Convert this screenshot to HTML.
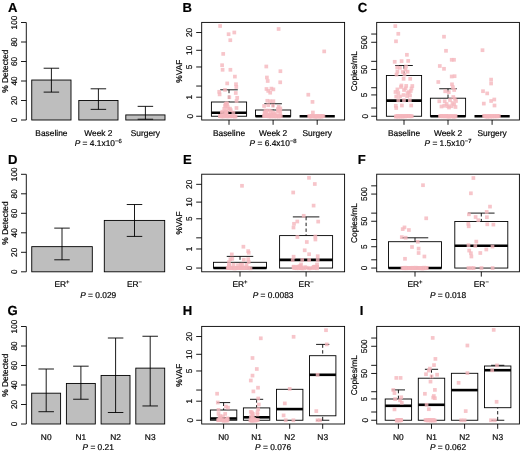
<!DOCTYPE html>
<html><head><meta charset="utf-8"><style>
html,body{margin:0;padding:0;background:#fff;}
svg{display:block;font-family:"Liberation Sans", sans-serif;will-change:transform;}
text{fill:#000;stroke:#000;stroke-width:0.18px;text-rendering:geometricPrecision;}
</style></head><body>
<svg width="520" height="453" viewBox="0 0 520 453">
<rect x="0" y="0" width="520" height="453" fill="#fff"/>
<text x="7.90" y="11.75" font-size="13.1" text-anchor="start" font-weight="bold" font-style="normal">A</text>
<text x="182.60" y="11.75" font-size="13.1" text-anchor="start" font-weight="bold" font-style="normal">B</text>
<text x="357.70" y="11.75" font-size="13.1" text-anchor="start" font-weight="bold" font-style="normal">C</text>
<text x="7.90" y="163.55" font-size="13.1" text-anchor="start" font-weight="bold" font-style="normal">D</text>
<text x="183.00" y="163.55" font-size="13.1" text-anchor="start" font-weight="bold" font-style="normal">E</text>
<text x="357.70" y="163.55" font-size="13.1" text-anchor="start" font-weight="bold" font-style="normal">F</text>
<text x="7.40" y="315.25" font-size="13.1" text-anchor="start" font-weight="bold" font-style="normal">G</text>
<text x="182.70" y="315.25" font-size="13.1" text-anchor="start" font-weight="bold" font-style="normal">H</text>
<text x="359.70" y="315.25" font-size="13.1" text-anchor="start" font-weight="bold" font-style="normal">I</text>
<line x1="26.30" y1="120.00" x2="26.30" y2="22.50" stroke="#000" stroke-width="0.9" stroke-linecap="butt"/>
<line x1="21.00" y1="120.00" x2="26.30" y2="120.00" stroke="#000" stroke-width="0.9" stroke-linecap="butt"/>
<text x="17.00" y="120.00" font-size="8.25" text-anchor="middle" font-weight="normal" font-style="normal" transform="rotate(-90 17.00 120.00)">0</text>
<line x1="21.00" y1="100.50" x2="26.30" y2="100.50" stroke="#000" stroke-width="0.9" stroke-linecap="butt"/>
<text x="17.00" y="100.50" font-size="8.25" text-anchor="middle" font-weight="normal" font-style="normal" transform="rotate(-90 17.00 100.50)">20</text>
<line x1="21.00" y1="81.00" x2="26.30" y2="81.00" stroke="#000" stroke-width="0.9" stroke-linecap="butt"/>
<text x="17.00" y="81.00" font-size="8.25" text-anchor="middle" font-weight="normal" font-style="normal" transform="rotate(-90 17.00 81.00)">40</text>
<line x1="21.00" y1="61.50" x2="26.30" y2="61.50" stroke="#000" stroke-width="0.9" stroke-linecap="butt"/>
<text x="17.00" y="61.50" font-size="8.25" text-anchor="middle" font-weight="normal" font-style="normal" transform="rotate(-90 17.00 61.50)">60</text>
<line x1="21.00" y1="42.00" x2="26.30" y2="42.00" stroke="#000" stroke-width="0.9" stroke-linecap="butt"/>
<text x="17.00" y="42.00" font-size="8.25" text-anchor="middle" font-weight="normal" font-style="normal" transform="rotate(-90 17.00 42.00)">80</text>
<line x1="21.00" y1="22.50" x2="26.30" y2="22.50" stroke="#000" stroke-width="0.9" stroke-linecap="butt"/>
<text x="17.00" y="22.50" font-size="8.25" text-anchor="middle" font-weight="normal" font-style="normal" transform="rotate(-90 17.00 22.50)">100</text>
<text x="7.90" y="71.20" font-size="8.4" text-anchor="middle" font-weight="normal" font-style="normal" transform="rotate(-90 7.90 71.20)">% Detected</text>
<rect x="31.75" y="80.03" width="39.25" height="39.97" fill="#bebebe" stroke="#000" stroke-width="0.9"/>
<rect x="78.80" y="100.50" width="39.20" height="19.50" fill="#bebebe" stroke="#000" stroke-width="0.9"/>
<rect x="125.80" y="114.93" width="39.20" height="5.07" fill="#bebebe" stroke="#000" stroke-width="0.9"/>
<line x1="51.40" y1="92.11" x2="51.40" y2="68.23" stroke="#000" stroke-width="0.9" stroke-linecap="butt"/>
<line x1="43.65" y1="92.11" x2="59.15" y2="92.11" stroke="#000" stroke-width="0.9" stroke-linecap="butt"/>
<line x1="43.65" y1="68.23" x2="59.15" y2="68.23" stroke="#000" stroke-width="0.9" stroke-linecap="butt"/>
<line x1="98.40" y1="109.37" x2="98.40" y2="88.80" stroke="#000" stroke-width="0.9" stroke-linecap="butt"/>
<line x1="90.65" y1="109.37" x2="106.15" y2="109.37" stroke="#000" stroke-width="0.9" stroke-linecap="butt"/>
<line x1="90.65" y1="88.80" x2="106.15" y2="88.80" stroke="#000" stroke-width="0.9" stroke-linecap="butt"/>
<line x1="145.40" y1="119.22" x2="145.40" y2="106.35" stroke="#000" stroke-width="0.9" stroke-linecap="butt"/>
<line x1="137.65" y1="119.22" x2="153.15" y2="119.22" stroke="#000" stroke-width="0.9" stroke-linecap="butt"/>
<line x1="137.65" y1="106.35" x2="153.15" y2="106.35" stroke="#000" stroke-width="0.9" stroke-linecap="butt"/>
<text x="51.40" y="135.60" font-size="8.4" text-anchor="middle" font-weight="normal" font-style="normal">Baseline</text>
<text x="98.40" y="135.60" font-size="8.4" text-anchor="middle" font-weight="normal" font-style="normal">Week 2</text>
<text x="145.40" y="135.60" font-size="8.4" text-anchor="middle" font-weight="normal" font-style="normal">Surgery</text>
<text x="98.20" y="146.30" font-size="8.4" text-anchor="middle" font-weight="normal" font-style="normal"><tspan font-style="italic">P</tspan> = 4.1x10<tspan dy="-3.5" font-size="5.9">−6</tspan></text>
<line x1="26.30" y1="271.80" x2="26.30" y2="174.30" stroke="#000" stroke-width="0.9" stroke-linecap="butt"/>
<line x1="21.00" y1="271.80" x2="26.30" y2="271.80" stroke="#000" stroke-width="0.9" stroke-linecap="butt"/>
<text x="17.00" y="271.80" font-size="8.25" text-anchor="middle" font-weight="normal" font-style="normal" transform="rotate(-90 17.00 271.80)">0</text>
<line x1="21.00" y1="252.30" x2="26.30" y2="252.30" stroke="#000" stroke-width="0.9" stroke-linecap="butt"/>
<text x="17.00" y="252.30" font-size="8.25" text-anchor="middle" font-weight="normal" font-style="normal" transform="rotate(-90 17.00 252.30)">20</text>
<line x1="21.00" y1="232.80" x2="26.30" y2="232.80" stroke="#000" stroke-width="0.9" stroke-linecap="butt"/>
<text x="17.00" y="232.80" font-size="8.25" text-anchor="middle" font-weight="normal" font-style="normal" transform="rotate(-90 17.00 232.80)">40</text>
<line x1="21.00" y1="213.30" x2="26.30" y2="213.30" stroke="#000" stroke-width="0.9" stroke-linecap="butt"/>
<text x="17.00" y="213.30" font-size="8.25" text-anchor="middle" font-weight="normal" font-style="normal" transform="rotate(-90 17.00 213.30)">60</text>
<line x1="21.00" y1="193.80" x2="26.30" y2="193.80" stroke="#000" stroke-width="0.9" stroke-linecap="butt"/>
<text x="17.00" y="193.80" font-size="8.25" text-anchor="middle" font-weight="normal" font-style="normal" transform="rotate(-90 17.00 193.80)">80</text>
<line x1="21.00" y1="174.30" x2="26.30" y2="174.30" stroke="#000" stroke-width="0.9" stroke-linecap="butt"/>
<text x="17.00" y="174.30" font-size="8.25" text-anchor="middle" font-weight="normal" font-style="normal" transform="rotate(-90 17.00 174.30)">100</text>
<text x="7.90" y="223.00" font-size="8.4" text-anchor="middle" font-weight="normal" font-style="normal" transform="rotate(-90 7.90 223.00)">% Detected</text>
<rect x="31.75" y="246.65" width="60.55" height="25.16" fill="#bebebe" stroke="#000" stroke-width="0.9"/>
<rect x="104.30" y="220.42" width="60.40" height="51.38" fill="#bebebe" stroke="#000" stroke-width="0.9"/>
<line x1="62.00" y1="259.81" x2="62.00" y2="228.12" stroke="#000" stroke-width="0.9" stroke-linecap="butt"/>
<line x1="54.25" y1="259.81" x2="69.75" y2="259.81" stroke="#000" stroke-width="0.9" stroke-linecap="butt"/>
<line x1="54.25" y1="228.12" x2="69.75" y2="228.12" stroke="#000" stroke-width="0.9" stroke-linecap="butt"/>
<line x1="134.50" y1="236.41" x2="134.50" y2="204.53" stroke="#000" stroke-width="0.9" stroke-linecap="butt"/>
<line x1="126.75" y1="236.41" x2="142.25" y2="236.41" stroke="#000" stroke-width="0.9" stroke-linecap="butt"/>
<line x1="126.75" y1="204.53" x2="142.25" y2="204.53" stroke="#000" stroke-width="0.9" stroke-linecap="butt"/>
<text x="62.00" y="287.40" font-size="8.4" text-anchor="middle" font-weight="normal" font-style="normal">ER<tspan dy="-3.5" font-size="5.9">+</tspan></text>
<text x="134.50" y="287.40" font-size="8.4" text-anchor="middle" font-weight="normal" font-style="normal">ER<tspan dy="-3.5" font-size="5.9">−</tspan></text>
<text x="98.20" y="298.10" font-size="8.4" text-anchor="middle" font-weight="normal" font-style="normal"><tspan font-style="italic">P</tspan> = 0.029</text>
<line x1="26.30" y1="424.00" x2="26.30" y2="326.50" stroke="#000" stroke-width="0.9" stroke-linecap="butt"/>
<line x1="21.00" y1="424.00" x2="26.30" y2="424.00" stroke="#000" stroke-width="0.9" stroke-linecap="butt"/>
<text x="17.00" y="424.00" font-size="8.25" text-anchor="middle" font-weight="normal" font-style="normal" transform="rotate(-90 17.00 424.00)">0</text>
<line x1="21.00" y1="404.50" x2="26.30" y2="404.50" stroke="#000" stroke-width="0.9" stroke-linecap="butt"/>
<text x="17.00" y="404.50" font-size="8.25" text-anchor="middle" font-weight="normal" font-style="normal" transform="rotate(-90 17.00 404.50)">20</text>
<line x1="21.00" y1="385.00" x2="26.30" y2="385.00" stroke="#000" stroke-width="0.9" stroke-linecap="butt"/>
<text x="17.00" y="385.00" font-size="8.25" text-anchor="middle" font-weight="normal" font-style="normal" transform="rotate(-90 17.00 385.00)">40</text>
<line x1="21.00" y1="365.50" x2="26.30" y2="365.50" stroke="#000" stroke-width="0.9" stroke-linecap="butt"/>
<text x="17.00" y="365.50" font-size="8.25" text-anchor="middle" font-weight="normal" font-style="normal" transform="rotate(-90 17.00 365.50)">60</text>
<line x1="21.00" y1="346.00" x2="26.30" y2="346.00" stroke="#000" stroke-width="0.9" stroke-linecap="butt"/>
<text x="17.00" y="346.00" font-size="8.25" text-anchor="middle" font-weight="normal" font-style="normal" transform="rotate(-90 17.00 346.00)">80</text>
<line x1="21.00" y1="326.50" x2="26.30" y2="326.50" stroke="#000" stroke-width="0.9" stroke-linecap="butt"/>
<text x="17.00" y="326.50" font-size="8.25" text-anchor="middle" font-weight="normal" font-style="normal" transform="rotate(-90 17.00 326.50)">100</text>
<text x="7.90" y="375.20" font-size="8.4" text-anchor="middle" font-weight="normal" font-style="normal" transform="rotate(-90 7.90 375.20)">% Detected</text>
<rect x="31.70" y="393.19" width="28.90" height="30.81" fill="#bebebe" stroke="#000" stroke-width="0.9"/>
<rect x="66.40" y="383.44" width="28.90" height="40.56" fill="#bebebe" stroke="#000" stroke-width="0.9"/>
<rect x="101.10" y="375.44" width="28.90" height="48.56" fill="#bebebe" stroke="#000" stroke-width="0.9"/>
<rect x="135.80" y="368.13" width="28.90" height="55.87" fill="#bebebe" stroke="#000" stroke-width="0.9"/>
<line x1="46.20" y1="411.71" x2="46.20" y2="369.01" stroke="#000" stroke-width="0.9" stroke-linecap="butt"/>
<line x1="38.45" y1="411.71" x2="53.95" y2="411.71" stroke="#000" stroke-width="0.9" stroke-linecap="butt"/>
<line x1="38.45" y1="369.01" x2="53.95" y2="369.01" stroke="#000" stroke-width="0.9" stroke-linecap="butt"/>
<line x1="80.90" y1="399.24" x2="80.90" y2="366.18" stroke="#000" stroke-width="0.9" stroke-linecap="butt"/>
<line x1="73.15" y1="399.24" x2="88.65" y2="399.24" stroke="#000" stroke-width="0.9" stroke-linecap="butt"/>
<line x1="73.15" y1="366.18" x2="88.65" y2="366.18" stroke="#000" stroke-width="0.9" stroke-linecap="butt"/>
<line x1="115.60" y1="412.50" x2="115.60" y2="338.00" stroke="#000" stroke-width="0.9" stroke-linecap="butt"/>
<line x1="107.85" y1="412.50" x2="123.35" y2="412.50" stroke="#000" stroke-width="0.9" stroke-linecap="butt"/>
<line x1="107.85" y1="338.00" x2="123.35" y2="338.00" stroke="#000" stroke-width="0.9" stroke-linecap="butt"/>
<line x1="150.20" y1="405.96" x2="150.20" y2="336.25" stroke="#000" stroke-width="0.9" stroke-linecap="butt"/>
<line x1="142.45" y1="405.96" x2="157.95" y2="405.96" stroke="#000" stroke-width="0.9" stroke-linecap="butt"/>
<line x1="142.45" y1="336.25" x2="157.95" y2="336.25" stroke="#000" stroke-width="0.9" stroke-linecap="butt"/>
<text x="46.20" y="439.60" font-size="8.4" text-anchor="middle" font-weight="normal" font-style="normal">N0</text>
<text x="80.90" y="439.60" font-size="8.4" text-anchor="middle" font-weight="normal" font-style="normal">N1</text>
<text x="115.60" y="439.60" font-size="8.4" text-anchor="middle" font-weight="normal" font-style="normal">N2</text>
<text x="150.20" y="439.60" font-size="8.4" text-anchor="middle" font-weight="normal" font-style="normal">N3</text>
<text x="98.20" y="450.30" font-size="8.4" text-anchor="middle" font-weight="normal" font-style="normal"><tspan font-style="italic">P</tspan> = 0.21</text>
<rect x="201.70" y="22.40" width="142.90" height="97.60" fill="none" stroke="#000" stroke-width="0.9"/>
<line x1="196.20" y1="116.25" x2="201.70" y2="116.25" stroke="#000" stroke-width="0.9" stroke-linecap="butt"/>
<text x="192.50" y="116.25" font-size="8.25" text-anchor="middle" font-weight="normal" font-style="normal" transform="rotate(-90 192.50 116.25)">0</text>
<line x1="196.20" y1="97.19" x2="201.70" y2="97.19" stroke="#000" stroke-width="0.9" stroke-linecap="butt"/>
<text x="192.50" y="97.19" font-size="8.25" text-anchor="middle" font-weight="normal" font-style="normal" transform="rotate(-90 192.50 97.19)">1</text>
<line x1="196.20" y1="86.04" x2="201.70" y2="86.04" stroke="#000" stroke-width="0.9" stroke-linecap="butt"/>
<line x1="196.20" y1="66.98" x2="201.70" y2="66.98" stroke="#000" stroke-width="0.9" stroke-linecap="butt"/>
<text x="192.50" y="66.98" font-size="8.25" text-anchor="middle" font-weight="normal" font-style="normal" transform="rotate(-90 192.50 66.98)">5</text>
<line x1="196.20" y1="50.31" x2="201.70" y2="50.31" stroke="#000" stroke-width="0.9" stroke-linecap="butt"/>
<text x="192.50" y="50.31" font-size="8.25" text-anchor="middle" font-weight="normal" font-style="normal" transform="rotate(-90 192.50 50.31)">10</text>
<line x1="196.20" y1="32.53" x2="201.70" y2="32.53" stroke="#000" stroke-width="0.9" stroke-linecap="butt"/>
<text x="192.50" y="32.53" font-size="8.25" text-anchor="middle" font-weight="normal" font-style="normal" transform="rotate(-90 192.50 32.53)">20</text>
<text x="182.40" y="71.20" font-size="8.4" text-anchor="middle" font-weight="normal" font-style="normal" transform="rotate(-90 182.40 71.20)">%VAF</text>
<rect x="211.40" y="102.00" width="35.20" height="14.25" fill="#fff" stroke="#000" stroke-width="0.9"/>
<line x1="229.00" y1="89.80" x2="229.00" y2="102.00" stroke="#000" stroke-width="0.9" stroke-dasharray="3.4,2.4" stroke-linecap="butt"/>
<line x1="220.20" y1="89.80" x2="237.80" y2="89.80" stroke="#000" stroke-width="0.9" stroke-linecap="butt"/>
<line x1="211.40" y1="112.70" x2="246.60" y2="112.70" stroke="#000" stroke-width="2.6" stroke-linecap="butt"/>
<rect x="255.50" y="110.00" width="35.20" height="6.25" fill="#fff" stroke="#000" stroke-width="0.9"/>
<line x1="273.10" y1="103.75" x2="273.10" y2="110.00" stroke="#000" stroke-width="0.9" stroke-dasharray="3.4,2.4" stroke-linecap="butt"/>
<line x1="264.30" y1="103.75" x2="281.90" y2="103.75" stroke="#000" stroke-width="0.9" stroke-linecap="butt"/>
<line x1="255.50" y1="116.25" x2="290.70" y2="116.25" stroke="#000" stroke-width="2.6" stroke-linecap="butt"/>
<rect x="299.60" y="116.25" width="35.20" height="0.00" fill="#fff" stroke="#000" stroke-width="0.9"/>
<line x1="299.60" y1="116.25" x2="334.80" y2="116.25" stroke="#000" stroke-width="2.6" stroke-linecap="butt"/>
<line x1="229.00" y1="120.00" x2="229.00" y2="124.80" stroke="#000" stroke-width="0.9" stroke-linecap="butt"/>
<text x="229.00" y="135.60" font-size="8.4" text-anchor="middle" font-weight="normal" font-style="normal">Baseline</text>
<line x1="273.10" y1="120.00" x2="273.10" y2="124.80" stroke="#000" stroke-width="0.9" stroke-linecap="butt"/>
<text x="273.10" y="135.60" font-size="8.4" text-anchor="middle" font-weight="normal" font-style="normal">Week 2</text>
<line x1="317.20" y1="120.00" x2="317.20" y2="124.80" stroke="#000" stroke-width="0.9" stroke-linecap="butt"/>
<text x="317.20" y="135.60" font-size="8.4" text-anchor="middle" font-weight="normal" font-style="normal">Surgery</text>
<text x="273.10" y="146.30" font-size="8.4" text-anchor="middle" font-weight="normal" font-style="normal"><tspan font-style="italic">P</tspan> = 6.4x10<tspan dy="-3.5" font-size="5.9">−8</tspan></text>
<rect x="376.70" y="22.40" width="142.70" height="97.60" fill="none" stroke="#000" stroke-width="0.9"/>
<line x1="371.20" y1="116.25" x2="376.70" y2="116.25" stroke="#000" stroke-width="0.9" stroke-linecap="butt"/>
<text x="367.50" y="116.25" font-size="8.25" text-anchor="middle" font-weight="normal" font-style="normal" transform="rotate(-90 367.50 116.25)">0</text>
<line x1="371.20" y1="108.00" x2="376.70" y2="108.00" stroke="#000" stroke-width="0.9" stroke-linecap="butt"/>
<line x1="371.20" y1="94.93" x2="376.70" y2="94.93" stroke="#000" stroke-width="0.9" stroke-linecap="butt"/>
<text x="367.50" y="94.93" font-size="8.25" text-anchor="middle" font-weight="normal" font-style="normal" transform="rotate(-90 367.50 94.93)">5</text>
<line x1="371.20" y1="87.72" x2="376.70" y2="87.72" stroke="#000" stroke-width="0.9" stroke-linecap="butt"/>
<line x1="371.20" y1="69.46" x2="376.70" y2="69.46" stroke="#000" stroke-width="0.9" stroke-linecap="butt"/>
<text x="367.50" y="69.46" font-size="8.25" text-anchor="middle" font-weight="normal" font-style="normal" transform="rotate(-90 367.50 69.46)">50</text>
<line x1="371.20" y1="61.33" x2="376.70" y2="61.33" stroke="#000" stroke-width="0.9" stroke-linecap="butt"/>
<line x1="371.20" y1="42.27" x2="376.70" y2="42.27" stroke="#000" stroke-width="0.9" stroke-linecap="butt"/>
<text x="367.50" y="42.27" font-size="8.25" text-anchor="middle" font-weight="normal" font-style="normal" transform="rotate(-90 367.50 42.27)">500</text>
<line x1="371.20" y1="34.04" x2="376.70" y2="34.04" stroke="#000" stroke-width="0.9" stroke-linecap="butt"/>
<text x="357.40" y="71.20" font-size="8.4" text-anchor="middle" font-weight="normal" font-style="normal" transform="rotate(-90 357.40 71.20)">Copies/mL</text>
<rect x="386.40" y="75.50" width="35.20" height="40.75" fill="#fff" stroke="#000" stroke-width="0.9"/>
<line x1="404.00" y1="65.50" x2="404.00" y2="75.50" stroke="#000" stroke-width="0.9" stroke-dasharray="3.4,2.4" stroke-linecap="butt"/>
<line x1="395.20" y1="65.50" x2="412.80" y2="65.50" stroke="#000" stroke-width="0.9" stroke-linecap="butt"/>
<line x1="386.40" y1="100.60" x2="421.60" y2="100.60" stroke="#000" stroke-width="2.6" stroke-linecap="butt"/>
<rect x="430.40" y="98.20" width="35.20" height="18.05" fill="#fff" stroke="#000" stroke-width="0.9"/>
<line x1="448.00" y1="88.75" x2="448.00" y2="98.20" stroke="#000" stroke-width="0.9" stroke-dasharray="3.4,2.4" stroke-linecap="butt"/>
<line x1="439.20" y1="88.75" x2="456.80" y2="88.75" stroke="#000" stroke-width="0.9" stroke-linecap="butt"/>
<line x1="430.40" y1="116.25" x2="465.60" y2="116.25" stroke="#000" stroke-width="2.6" stroke-linecap="butt"/>
<rect x="474.50" y="116.25" width="35.20" height="0.00" fill="#fff" stroke="#000" stroke-width="0.9"/>
<line x1="474.50" y1="116.25" x2="509.70" y2="116.25" stroke="#000" stroke-width="2.6" stroke-linecap="butt"/>
<line x1="404.00" y1="120.00" x2="404.00" y2="124.80" stroke="#000" stroke-width="0.9" stroke-linecap="butt"/>
<text x="404.00" y="135.60" font-size="8.4" text-anchor="middle" font-weight="normal" font-style="normal">Baseline</text>
<line x1="448.00" y1="120.00" x2="448.00" y2="124.80" stroke="#000" stroke-width="0.9" stroke-linecap="butt"/>
<text x="448.00" y="135.60" font-size="8.4" text-anchor="middle" font-weight="normal" font-style="normal">Week 2</text>
<line x1="492.10" y1="120.00" x2="492.10" y2="124.80" stroke="#000" stroke-width="0.9" stroke-linecap="butt"/>
<text x="492.10" y="135.60" font-size="8.4" text-anchor="middle" font-weight="normal" font-style="normal">Surgery</text>
<text x="448.00" y="146.30" font-size="8.4" text-anchor="middle" font-weight="normal" font-style="normal"><tspan font-style="italic">P</tspan> = 1.5x10<tspan dy="-3.5" font-size="5.9">−7</tspan></text>
<rect x="201.70" y="174.20" width="142.90" height="97.60" fill="none" stroke="#000" stroke-width="0.9"/>
<line x1="196.20" y1="268.05" x2="201.70" y2="268.05" stroke="#000" stroke-width="0.9" stroke-linecap="butt"/>
<text x="192.50" y="268.05" font-size="8.25" text-anchor="middle" font-weight="normal" font-style="normal" transform="rotate(-90 192.50 268.05)">0</text>
<line x1="196.20" y1="248.99" x2="201.70" y2="248.99" stroke="#000" stroke-width="0.9" stroke-linecap="butt"/>
<text x="192.50" y="248.99" font-size="8.25" text-anchor="middle" font-weight="normal" font-style="normal" transform="rotate(-90 192.50 248.99)">1</text>
<line x1="196.20" y1="237.84" x2="201.70" y2="237.84" stroke="#000" stroke-width="0.9" stroke-linecap="butt"/>
<line x1="196.20" y1="218.78" x2="201.70" y2="218.78" stroke="#000" stroke-width="0.9" stroke-linecap="butt"/>
<text x="192.50" y="218.78" font-size="8.25" text-anchor="middle" font-weight="normal" font-style="normal" transform="rotate(-90 192.50 218.78)">5</text>
<line x1="196.20" y1="202.11" x2="201.70" y2="202.11" stroke="#000" stroke-width="0.9" stroke-linecap="butt"/>
<text x="192.50" y="202.11" font-size="8.25" text-anchor="middle" font-weight="normal" font-style="normal" transform="rotate(-90 192.50 202.11)">10</text>
<line x1="196.20" y1="184.33" x2="201.70" y2="184.33" stroke="#000" stroke-width="0.9" stroke-linecap="butt"/>
<text x="192.50" y="184.33" font-size="8.25" text-anchor="middle" font-weight="normal" font-style="normal" transform="rotate(-90 192.50 184.33)">20</text>
<text x="182.40" y="223.00" font-size="8.4" text-anchor="middle" font-weight="normal" font-style="normal" transform="rotate(-90 182.40 223.00)">%VAF</text>
<rect x="213.50" y="262.30" width="53.00" height="5.75" fill="#fff" stroke="#000" stroke-width="0.9"/>
<line x1="240.00" y1="256.40" x2="240.00" y2="262.30" stroke="#000" stroke-width="0.9" stroke-dasharray="3.4,2.4" stroke-linecap="butt"/>
<line x1="226.75" y1="256.40" x2="253.25" y2="256.40" stroke="#000" stroke-width="0.9" stroke-linecap="butt"/>
<line x1="213.50" y1="268.05" x2="266.50" y2="268.05" stroke="#000" stroke-width="2.6" stroke-linecap="butt"/>
<rect x="279.60" y="235.60" width="53.00" height="32.45" fill="#fff" stroke="#000" stroke-width="0.9"/>
<line x1="306.10" y1="216.90" x2="306.10" y2="235.60" stroke="#000" stroke-width="0.9" stroke-dasharray="3.4,2.4" stroke-linecap="butt"/>
<line x1="292.85" y1="216.90" x2="319.35" y2="216.90" stroke="#000" stroke-width="0.9" stroke-linecap="butt"/>
<line x1="279.60" y1="259.90" x2="332.60" y2="259.90" stroke="#000" stroke-width="2.6" stroke-linecap="butt"/>
<line x1="240.00" y1="271.80" x2="240.00" y2="276.60" stroke="#000" stroke-width="0.9" stroke-linecap="butt"/>
<text x="240.00" y="287.40" font-size="8.4" text-anchor="middle" font-weight="normal" font-style="normal">ER<tspan dy="-3.5" font-size="5.9">+</tspan></text>
<line x1="306.10" y1="271.80" x2="306.10" y2="276.60" stroke="#000" stroke-width="0.9" stroke-linecap="butt"/>
<text x="306.10" y="287.40" font-size="8.4" text-anchor="middle" font-weight="normal" font-style="normal">ER<tspan dy="-3.5" font-size="5.9">−</tspan></text>
<text x="273.10" y="298.10" font-size="8.4" text-anchor="middle" font-weight="normal" font-style="normal"><tspan font-style="italic">P</tspan> = 0.0083</text>
<rect x="376.70" y="174.20" width="142.70" height="97.60" fill="none" stroke="#000" stroke-width="0.9"/>
<line x1="371.20" y1="268.05" x2="376.70" y2="268.05" stroke="#000" stroke-width="0.9" stroke-linecap="butt"/>
<text x="367.50" y="268.05" font-size="8.25" text-anchor="middle" font-weight="normal" font-style="normal" transform="rotate(-90 367.50 268.05)">0</text>
<line x1="371.20" y1="259.80" x2="376.70" y2="259.80" stroke="#000" stroke-width="0.9" stroke-linecap="butt"/>
<line x1="371.20" y1="246.73" x2="376.70" y2="246.73" stroke="#000" stroke-width="0.9" stroke-linecap="butt"/>
<text x="367.50" y="246.73" font-size="8.25" text-anchor="middle" font-weight="normal" font-style="normal" transform="rotate(-90 367.50 246.73)">5</text>
<line x1="371.20" y1="239.52" x2="376.70" y2="239.52" stroke="#000" stroke-width="0.9" stroke-linecap="butt"/>
<line x1="371.20" y1="221.26" x2="376.70" y2="221.26" stroke="#000" stroke-width="0.9" stroke-linecap="butt"/>
<text x="367.50" y="221.26" font-size="8.25" text-anchor="middle" font-weight="normal" font-style="normal" transform="rotate(-90 367.50 221.26)">50</text>
<line x1="371.20" y1="213.13" x2="376.70" y2="213.13" stroke="#000" stroke-width="0.9" stroke-linecap="butt"/>
<line x1="371.20" y1="194.07" x2="376.70" y2="194.07" stroke="#000" stroke-width="0.9" stroke-linecap="butt"/>
<text x="367.50" y="194.07" font-size="8.25" text-anchor="middle" font-weight="normal" font-style="normal" transform="rotate(-90 367.50 194.07)">500</text>
<line x1="371.20" y1="185.84" x2="376.70" y2="185.84" stroke="#000" stroke-width="0.9" stroke-linecap="butt"/>
<text x="357.40" y="223.00" font-size="8.4" text-anchor="middle" font-weight="normal" font-style="normal" transform="rotate(-90 357.40 223.00)">Copies/mL</text>
<rect x="388.50" y="241.70" width="53.00" height="26.35" fill="#fff" stroke="#000" stroke-width="0.9"/>
<line x1="415.00" y1="237.80" x2="415.00" y2="241.70" stroke="#000" stroke-width="0.9" stroke-dasharray="3.4,2.4" stroke-linecap="butt"/>
<line x1="401.75" y1="237.80" x2="428.25" y2="237.80" stroke="#000" stroke-width="0.9" stroke-linecap="butt"/>
<line x1="388.50" y1="268.05" x2="441.50" y2="268.05" stroke="#000" stroke-width="2.6" stroke-linecap="butt"/>
<rect x="454.80" y="221.50" width="53.00" height="46.55" fill="#fff" stroke="#000" stroke-width="0.9"/>
<line x1="481.30" y1="213.10" x2="481.30" y2="221.50" stroke="#000" stroke-width="0.9" stroke-dasharray="3.4,2.4" stroke-linecap="butt"/>
<line x1="468.05" y1="213.10" x2="494.55" y2="213.10" stroke="#000" stroke-width="0.9" stroke-linecap="butt"/>
<line x1="454.80" y1="245.80" x2="507.80" y2="245.80" stroke="#000" stroke-width="2.6" stroke-linecap="butt"/>
<line x1="415.00" y1="271.80" x2="415.00" y2="276.60" stroke="#000" stroke-width="0.9" stroke-linecap="butt"/>
<text x="415.00" y="287.40" font-size="8.4" text-anchor="middle" font-weight="normal" font-style="normal">ER<tspan dy="-3.5" font-size="5.9">+</tspan></text>
<line x1="481.30" y1="271.80" x2="481.30" y2="276.60" stroke="#000" stroke-width="0.9" stroke-linecap="butt"/>
<text x="481.30" y="287.40" font-size="8.4" text-anchor="middle" font-weight="normal" font-style="normal">ER<tspan dy="-3.5" font-size="5.9">−</tspan></text>
<text x="448.00" y="298.10" font-size="8.4" text-anchor="middle" font-weight="normal" font-style="normal"><tspan font-style="italic">P</tspan> = 0.018</text>
<rect x="201.70" y="326.40" width="142.90" height="97.60" fill="none" stroke="#000" stroke-width="0.9"/>
<line x1="196.20" y1="420.25" x2="201.70" y2="420.25" stroke="#000" stroke-width="0.9" stroke-linecap="butt"/>
<text x="192.50" y="420.25" font-size="8.25" text-anchor="middle" font-weight="normal" font-style="normal" transform="rotate(-90 192.50 420.25)">0</text>
<line x1="196.20" y1="401.19" x2="201.70" y2="401.19" stroke="#000" stroke-width="0.9" stroke-linecap="butt"/>
<text x="192.50" y="401.19" font-size="8.25" text-anchor="middle" font-weight="normal" font-style="normal" transform="rotate(-90 192.50 401.19)">1</text>
<line x1="196.20" y1="390.04" x2="201.70" y2="390.04" stroke="#000" stroke-width="0.9" stroke-linecap="butt"/>
<line x1="196.20" y1="370.98" x2="201.70" y2="370.98" stroke="#000" stroke-width="0.9" stroke-linecap="butt"/>
<text x="192.50" y="370.98" font-size="8.25" text-anchor="middle" font-weight="normal" font-style="normal" transform="rotate(-90 192.50 370.98)">5</text>
<line x1="196.20" y1="354.31" x2="201.70" y2="354.31" stroke="#000" stroke-width="0.9" stroke-linecap="butt"/>
<text x="192.50" y="354.31" font-size="8.25" text-anchor="middle" font-weight="normal" font-style="normal" transform="rotate(-90 192.50 354.31)">10</text>
<line x1="196.20" y1="336.53" x2="201.70" y2="336.53" stroke="#000" stroke-width="0.9" stroke-linecap="butt"/>
<text x="192.50" y="336.53" font-size="8.25" text-anchor="middle" font-weight="normal" font-style="normal" transform="rotate(-90 192.50 336.53)">20</text>
<text x="182.40" y="375.20" font-size="8.4" text-anchor="middle" font-weight="normal" font-style="normal" transform="rotate(-90 182.40 375.20)">%VAF</text>
<rect x="210.40" y="410.00" width="26.40" height="10.25" fill="#fff" stroke="#000" stroke-width="0.9"/>
<line x1="223.60" y1="402.60" x2="223.60" y2="410.00" stroke="#000" stroke-width="0.9" stroke-dasharray="3.4,2.4" stroke-linecap="butt"/>
<line x1="217.00" y1="402.60" x2="230.20" y2="402.60" stroke="#000" stroke-width="0.9" stroke-linecap="butt"/>
<line x1="210.40" y1="418.50" x2="236.80" y2="418.50" stroke="#000" stroke-width="2.6" stroke-linecap="butt"/>
<rect x="243.40" y="407.90" width="26.40" height="12.35" fill="#fff" stroke="#000" stroke-width="0.9"/>
<line x1="256.60" y1="399.30" x2="256.60" y2="407.90" stroke="#000" stroke-width="0.9" stroke-dasharray="3.4,2.4" stroke-linecap="butt"/>
<line x1="250.00" y1="399.30" x2="263.20" y2="399.30" stroke="#000" stroke-width="0.9" stroke-linecap="butt"/>
<line x1="243.40" y1="417.30" x2="269.80" y2="417.30" stroke="#000" stroke-width="2.6" stroke-linecap="butt"/>
<rect x="276.50" y="389.30" width="26.40" height="30.95" fill="#fff" stroke="#000" stroke-width="0.9"/>
<line x1="276.50" y1="409.10" x2="302.90" y2="409.10" stroke="#000" stroke-width="2.6" stroke-linecap="butt"/>
<rect x="309.50" y="355.70" width="26.40" height="60.10" fill="#fff" stroke="#000" stroke-width="0.9"/>
<line x1="322.70" y1="344.40" x2="322.70" y2="355.70" stroke="#000" stroke-width="0.9" stroke-dasharray="3.4,2.4" stroke-linecap="butt"/>
<line x1="316.10" y1="344.40" x2="329.30" y2="344.40" stroke="#000" stroke-width="0.9" stroke-linecap="butt"/>
<line x1="322.70" y1="420.25" x2="322.70" y2="415.80" stroke="#000" stroke-width="0.9" stroke-dasharray="3.4,2.4" stroke-linecap="butt"/>
<line x1="316.10" y1="420.25" x2="329.30" y2="420.25" stroke="#000" stroke-width="0.9" stroke-linecap="butt"/>
<line x1="309.50" y1="374.80" x2="335.90" y2="374.80" stroke="#000" stroke-width="2.6" stroke-linecap="butt"/>
<line x1="223.60" y1="424.00" x2="223.60" y2="428.80" stroke="#000" stroke-width="0.9" stroke-linecap="butt"/>
<text x="223.60" y="439.60" font-size="8.4" text-anchor="middle" font-weight="normal" font-style="normal">N0</text>
<line x1="256.60" y1="424.00" x2="256.60" y2="428.80" stroke="#000" stroke-width="0.9" stroke-linecap="butt"/>
<text x="256.60" y="439.60" font-size="8.4" text-anchor="middle" font-weight="normal" font-style="normal">N1</text>
<line x1="289.70" y1="424.00" x2="289.70" y2="428.80" stroke="#000" stroke-width="0.9" stroke-linecap="butt"/>
<text x="289.70" y="439.60" font-size="8.4" text-anchor="middle" font-weight="normal" font-style="normal">N2</text>
<line x1="322.70" y1="424.00" x2="322.70" y2="428.80" stroke="#000" stroke-width="0.9" stroke-linecap="butt"/>
<text x="322.70" y="439.60" font-size="8.4" text-anchor="middle" font-weight="normal" font-style="normal">N3</text>
<text x="273.10" y="450.30" font-size="8.4" text-anchor="middle" font-weight="normal" font-style="normal"><tspan font-style="italic">P</tspan> = 0.076</text>
<rect x="376.70" y="326.40" width="142.70" height="97.60" fill="none" stroke="#000" stroke-width="0.9"/>
<line x1="371.20" y1="420.25" x2="376.70" y2="420.25" stroke="#000" stroke-width="0.9" stroke-linecap="butt"/>
<text x="367.50" y="420.25" font-size="8.25" text-anchor="middle" font-weight="normal" font-style="normal" transform="rotate(-90 367.50 420.25)">0</text>
<line x1="371.20" y1="412.00" x2="376.70" y2="412.00" stroke="#000" stroke-width="0.9" stroke-linecap="butt"/>
<line x1="371.20" y1="398.93" x2="376.70" y2="398.93" stroke="#000" stroke-width="0.9" stroke-linecap="butt"/>
<text x="367.50" y="398.93" font-size="8.25" text-anchor="middle" font-weight="normal" font-style="normal" transform="rotate(-90 367.50 398.93)">5</text>
<line x1="371.20" y1="391.72" x2="376.70" y2="391.72" stroke="#000" stroke-width="0.9" stroke-linecap="butt"/>
<line x1="371.20" y1="373.46" x2="376.70" y2="373.46" stroke="#000" stroke-width="0.9" stroke-linecap="butt"/>
<text x="367.50" y="373.46" font-size="8.25" text-anchor="middle" font-weight="normal" font-style="normal" transform="rotate(-90 367.50 373.46)">50</text>
<line x1="371.20" y1="365.33" x2="376.70" y2="365.33" stroke="#000" stroke-width="0.9" stroke-linecap="butt"/>
<line x1="371.20" y1="346.27" x2="376.70" y2="346.27" stroke="#000" stroke-width="0.9" stroke-linecap="butt"/>
<text x="367.50" y="346.27" font-size="8.25" text-anchor="middle" font-weight="normal" font-style="normal" transform="rotate(-90 367.50 346.27)">500</text>
<line x1="371.20" y1="338.04" x2="376.70" y2="338.04" stroke="#000" stroke-width="0.9" stroke-linecap="butt"/>
<text x="357.40" y="375.20" font-size="8.4" text-anchor="middle" font-weight="normal" font-style="normal" transform="rotate(-90 357.40 375.20)">Copies/mL</text>
<rect x="385.20" y="399.00" width="26.40" height="21.25" fill="#fff" stroke="#000" stroke-width="0.9"/>
<line x1="398.40" y1="389.90" x2="398.40" y2="399.00" stroke="#000" stroke-width="0.9" stroke-dasharray="3.4,2.4" stroke-linecap="butt"/>
<line x1="391.80" y1="389.90" x2="405.00" y2="389.90" stroke="#000" stroke-width="0.9" stroke-linecap="butt"/>
<line x1="385.20" y1="405.80" x2="411.60" y2="405.80" stroke="#000" stroke-width="2.6" stroke-linecap="butt"/>
<rect x="418.30" y="378.20" width="26.40" height="42.05" fill="#fff" stroke="#000" stroke-width="0.9"/>
<line x1="431.50" y1="369.30" x2="431.50" y2="378.20" stroke="#000" stroke-width="0.9" stroke-dasharray="3.4,2.4" stroke-linecap="butt"/>
<line x1="424.90" y1="369.30" x2="438.10" y2="369.30" stroke="#000" stroke-width="0.9" stroke-linecap="butt"/>
<line x1="418.30" y1="404.80" x2="444.70" y2="404.80" stroke="#000" stroke-width="2.6" stroke-linecap="butt"/>
<rect x="451.40" y="373.30" width="26.40" height="46.95" fill="#fff" stroke="#000" stroke-width="0.9"/>
<line x1="451.40" y1="390.10" x2="477.80" y2="390.10" stroke="#000" stroke-width="2.6" stroke-linecap="butt"/>
<rect x="484.50" y="366.00" width="26.40" height="41.70" fill="#fff" stroke="#000" stroke-width="0.9"/>
<line x1="497.70" y1="365.30" x2="497.70" y2="366.00" stroke="#000" stroke-width="0.9" stroke-dasharray="3.4,2.4" stroke-linecap="butt"/>
<line x1="491.10" y1="365.30" x2="504.30" y2="365.30" stroke="#000" stroke-width="0.9" stroke-linecap="butt"/>
<line x1="497.70" y1="420.25" x2="497.70" y2="407.70" stroke="#000" stroke-width="0.9" stroke-dasharray="3.4,2.4" stroke-linecap="butt"/>
<line x1="491.10" y1="420.25" x2="504.30" y2="420.25" stroke="#000" stroke-width="0.9" stroke-linecap="butt"/>
<line x1="484.50" y1="370.20" x2="510.90" y2="370.20" stroke="#000" stroke-width="2.6" stroke-linecap="butt"/>
<line x1="398.40" y1="424.00" x2="398.40" y2="428.80" stroke="#000" stroke-width="0.9" stroke-linecap="butt"/>
<text x="398.40" y="439.60" font-size="8.4" text-anchor="middle" font-weight="normal" font-style="normal">N0</text>
<line x1="431.50" y1="424.00" x2="431.50" y2="428.80" stroke="#000" stroke-width="0.9" stroke-linecap="butt"/>
<text x="431.50" y="439.60" font-size="8.4" text-anchor="middle" font-weight="normal" font-style="normal">N1</text>
<line x1="464.60" y1="424.00" x2="464.60" y2="428.80" stroke="#000" stroke-width="0.9" stroke-linecap="butt"/>
<text x="464.60" y="439.60" font-size="8.4" text-anchor="middle" font-weight="normal" font-style="normal">N2</text>
<line x1="497.70" y1="424.00" x2="497.70" y2="428.80" stroke="#000" stroke-width="0.9" stroke-linecap="butt"/>
<text x="497.70" y="439.60" font-size="8.4" text-anchor="middle" font-weight="normal" font-style="normal">N3</text>
<text x="448.00" y="450.30" font-size="8.4" text-anchor="middle" font-weight="normal" font-style="normal"><tspan font-style="italic">P</tspan> = 0.062</text>
<g fill="#f5b6bd" fill-opacity="0.8">
<rect x="218.25" y="24.15" width="3.7" height="3.7"/>
<rect x="232.45" y="30.65" width="3.7" height="3.7"/>
<rect x="226.75" y="32.35" width="3.7" height="3.7"/>
<rect x="228.45" y="38.35" width="3.7" height="3.7"/>
<rect x="221.35" y="52.05" width="3.7" height="3.7"/>
<rect x="220.25" y="63.35" width="3.7" height="3.7"/>
<rect x="220.75" y="67.95" width="3.7" height="3.7"/>
<rect x="228.55" y="67.95" width="3.7" height="3.7"/>
<rect x="233.05" y="74.75" width="3.7" height="3.7"/>
<rect x="225.35" y="81.55" width="3.7" height="3.7"/>
<rect x="234.15" y="82.35" width="3.7" height="3.7"/>
<rect x="234.45" y="85.15" width="3.7" height="3.7"/>
<rect x="217.75" y="92.55" width="3.7" height="3.7"/>
<rect x="223.15" y="88.05" width="3.7" height="3.7"/>
<rect x="227.45" y="95.35" width="3.7" height="3.7"/>
<rect x="235.35" y="95.95" width="3.7" height="3.7"/>
<rect x="217.35" y="89.95" width="3.7" height="3.7"/>
<rect x="276.75" y="27.15" width="3.7" height="3.7"/>
<rect x="264.45" y="64.65" width="3.7" height="3.7"/>
<rect x="278.55" y="69.35" width="3.7" height="3.7"/>
<rect x="265.05" y="75.65" width="3.7" height="3.7"/>
<rect x="265.85" y="79.15" width="3.7" height="3.7"/>
<rect x="278.35" y="80.45" width="3.7" height="3.7"/>
<rect x="264.65" y="87.15" width="3.7" height="3.7"/>
<rect x="266.35" y="89.05" width="3.7" height="3.7"/>
<rect x="269.55" y="86.75" width="3.7" height="3.7"/>
<rect x="271.55" y="87.55" width="3.7" height="3.7"/>
<rect x="268.35" y="90.85" width="3.7" height="3.7"/>
<rect x="265.45" y="98.95" width="3.7" height="3.7"/>
<rect x="268.35" y="99.35" width="3.7" height="3.7"/>
<rect x="271.55" y="99.35" width="3.7" height="3.7"/>
<rect x="262.25" y="104.15" width="3.7" height="3.7"/>
<rect x="266.35" y="103.35" width="3.7" height="3.7"/>
<rect x="271.15" y="103.75" width="3.7" height="3.7"/>
<rect x="276.85" y="104.95" width="3.7" height="3.7"/>
<rect x="278.45" y="106.55" width="3.7" height="3.7"/>
<rect x="322.35" y="49.55" width="3.7" height="3.7"/>
<rect x="306.45" y="92.85" width="3.7" height="3.7"/>
<rect x="310.65" y="100.05" width="3.7" height="3.7"/>
<rect x="311.05" y="110.65" width="3.7" height="3.7"/>
<rect x="393.45" y="24.25" width="3.7" height="3.7"/>
<rect x="396.45" y="31.95" width="3.7" height="3.7"/>
<rect x="394.15" y="39.45" width="3.7" height="3.7"/>
<rect x="405.05" y="52.95" width="3.7" height="3.7"/>
<rect x="392.85" y="59.95" width="3.7" height="3.7"/>
<rect x="399.75" y="59.25" width="3.7" height="3.7"/>
<rect x="406.35" y="59.05" width="3.7" height="3.7"/>
<rect x="395.35" y="65.65" width="3.7" height="3.7"/>
<rect x="404.15" y="64.65" width="3.7" height="3.7"/>
<rect x="398.15" y="65.95" width="3.7" height="3.7"/>
<rect x="403.55" y="67.75" width="3.7" height="3.7"/>
<rect x="395.55" y="69.85" width="3.7" height="3.7"/>
<rect x="400.85" y="70.15" width="3.7" height="3.7"/>
<rect x="405.75" y="69.85" width="3.7" height="3.7"/>
<rect x="394.65" y="72.75" width="3.7" height="3.7"/>
<rect x="402.65" y="72.75" width="3.7" height="3.7"/>
<rect x="401.75" y="76.95" width="3.7" height="3.7"/>
<rect x="408.35" y="76.95" width="3.7" height="3.7"/>
<rect x="399.55" y="83.65" width="3.7" height="3.7"/>
<rect x="404.35" y="84.05" width="3.7" height="3.7"/>
<rect x="395.55" y="87.55" width="3.7" height="3.7"/>
<rect x="409.65" y="86.65" width="3.7" height="3.7"/>
<rect x="396.45" y="91.15" width="3.7" height="3.7"/>
<rect x="407.05" y="90.25" width="3.7" height="3.7"/>
<rect x="408.85" y="89.15" width="3.7" height="3.7"/>
<rect x="398.15" y="94.65" width="3.7" height="3.7"/>
<rect x="405.25" y="94.25" width="3.7" height="3.7"/>
<rect x="396.45" y="98.45" width="3.7" height="3.7"/>
<rect x="402.15" y="98.45" width="3.7" height="3.7"/>
<rect x="407.95" y="98.45" width="3.7" height="3.7"/>
<rect x="393.95" y="103.95" width="3.7" height="3.7"/>
<rect x="394.35" y="106.15" width="3.7" height="3.7"/>
<rect x="400.05" y="103.65" width="3.7" height="3.7"/>
<rect x="409.35" y="103.65" width="3.7" height="3.7"/>
<rect x="399.15" y="85.15" width="3.7" height="3.7"/>
<rect x="402.15" y="88.15" width="3.7" height="3.7"/>
<rect x="405.65" y="91.15" width="3.7" height="3.7"/>
<rect x="408.15" y="93.65" width="3.7" height="3.7"/>
<rect x="401.65" y="93.15" width="3.7" height="3.7"/>
<rect x="393.65" y="90.15" width="3.7" height="3.7"/>
<rect x="394.35" y="94.65" width="3.7" height="3.7"/>
<rect x="410.45" y="84.15" width="3.7" height="3.7"/>
<rect x="403.65" y="86.65" width="3.7" height="3.7"/>
<rect x="442.15" y="34.85" width="3.7" height="3.7"/>
<rect x="444.15" y="48.95" width="3.7" height="3.7"/>
<rect x="449.85" y="57.95" width="3.7" height="3.7"/>
<rect x="452.15" y="57.95" width="3.7" height="3.7"/>
<rect x="437.95" y="64.15" width="3.7" height="3.7"/>
<rect x="442.15" y="66.95" width="3.7" height="3.7"/>
<rect x="449.85" y="74.65" width="3.7" height="3.7"/>
<rect x="452.75" y="74.35" width="3.7" height="3.7"/>
<rect x="436.45" y="80.15" width="3.7" height="3.7"/>
<rect x="450.15" y="82.45" width="3.7" height="3.7"/>
<rect x="451.05" y="85.35" width="3.7" height="3.7"/>
<rect x="443.35" y="89.45" width="3.7" height="3.7"/>
<rect x="446.95" y="90.35" width="3.7" height="3.7"/>
<rect x="452.35" y="88.15" width="3.7" height="3.7"/>
<rect x="451.45" y="95.15" width="3.7" height="3.7"/>
<rect x="452.85" y="96.95" width="3.7" height="3.7"/>
<rect x="437.45" y="99.45" width="3.7" height="3.7"/>
<rect x="442.85" y="99.45" width="3.7" height="3.7"/>
<rect x="442.45" y="103.95" width="3.7" height="3.7"/>
<rect x="446.05" y="104.35" width="3.7" height="3.7"/>
<rect x="449.65" y="104.35" width="3.7" height="3.7"/>
<rect x="452.35" y="102.55" width="3.7" height="3.7"/>
<rect x="444.75" y="102.15" width="3.7" height="3.7"/>
<rect x="448.15" y="98.15" width="3.7" height="3.7"/>
<rect x="450.65" y="101.15" width="3.7" height="3.7"/>
<rect x="454.15" y="99.15" width="3.7" height="3.7"/>
<rect x="447.15" y="105.65" width="3.7" height="3.7"/>
<rect x="453.65" y="105.15" width="3.7" height="3.7"/>
<rect x="439.65" y="104.65" width="3.7" height="3.7"/>
<rect x="480.65" y="48.35" width="3.7" height="3.7"/>
<rect x="489.25" y="77.75" width="3.7" height="3.7"/>
<rect x="489.25" y="81.65" width="3.7" height="3.7"/>
<rect x="481.15" y="89.35" width="3.7" height="3.7"/>
<rect x="485.35" y="91.55" width="3.7" height="3.7"/>
<rect x="492.45" y="97.65" width="3.7" height="3.7"/>
<rect x="489.25" y="99.15" width="3.7" height="3.7"/>
<rect x="481.95" y="101.75" width="3.7" height="3.7"/>
<rect x="492.65" y="103.65" width="3.7" height="3.7"/>
<rect x="240.15" y="183.95" width="3.7" height="3.7"/>
<rect x="241.55" y="244.85" width="3.7" height="3.7"/>
<rect x="246.35" y="249.25" width="3.7" height="3.7"/>
<rect x="246.85" y="250.95" width="3.7" height="3.7"/>
<rect x="229.95" y="252.55" width="3.7" height="3.7"/>
<rect x="228.55" y="257.35" width="3.7" height="3.7"/>
<rect x="230.45" y="256.95" width="3.7" height="3.7"/>
<rect x="241.95" y="257.85" width="3.7" height="3.7"/>
<rect x="246.35" y="257.35" width="3.7" height="3.7"/>
<rect x="246.85" y="260.25" width="3.7" height="3.7"/>
<rect x="227.15" y="260.25" width="3.7" height="3.7"/>
<rect x="307.15" y="175.95" width="3.7" height="3.7"/>
<rect x="312.95" y="182.15" width="3.7" height="3.7"/>
<rect x="291.35" y="190.65" width="3.7" height="3.7"/>
<rect x="311.75" y="203.75" width="3.7" height="3.7"/>
<rect x="295.45" y="219.65" width="3.7" height="3.7"/>
<rect x="292.15" y="221.95" width="3.7" height="3.7"/>
<rect x="291.65" y="225.65" width="3.7" height="3.7"/>
<rect x="316.35" y="219.75" width="3.7" height="3.7"/>
<rect x="295.55" y="235.15" width="3.7" height="3.7"/>
<rect x="313.45" y="234.65" width="3.7" height="3.7"/>
<rect x="313.55" y="237.65" width="3.7" height="3.7"/>
<rect x="304.95" y="240.15" width="3.7" height="3.7"/>
<rect x="302.85" y="248.45" width="3.7" height="3.7"/>
<rect x="307.25" y="252.35" width="3.7" height="3.7"/>
<rect x="291.75" y="254.85" width="3.7" height="3.7"/>
<rect x="315.85" y="254.35" width="3.7" height="3.7"/>
<rect x="290.85" y="258.15" width="3.7" height="3.7"/>
<rect x="300.35" y="258.15" width="3.7" height="3.7"/>
<rect x="307.25" y="258.15" width="3.7" height="3.7"/>
<rect x="315.85" y="258.15" width="3.7" height="3.7"/>
<rect x="301.85" y="213.95" width="3.7" height="3.7"/>
<rect x="421.15" y="183.35" width="3.7" height="3.7"/>
<rect x="424.35" y="216.45" width="3.7" height="3.7"/>
<rect x="400.85" y="227.25" width="3.7" height="3.7"/>
<rect x="402.65" y="225.55" width="3.7" height="3.7"/>
<rect x="407.05" y="228.15" width="3.7" height="3.7"/>
<rect x="399.95" y="235.25" width="3.7" height="3.7"/>
<rect x="403.85" y="235.85" width="3.7" height="3.7"/>
<rect x="416.75" y="246.75" width="3.7" height="3.7"/>
<rect x="416.75" y="251.15" width="3.7" height="3.7"/>
<rect x="422.55" y="254.65" width="3.7" height="3.7"/>
<rect x="403.15" y="256.95" width="3.7" height="3.7"/>
<rect x="410.15" y="245.15" width="3.7" height="3.7"/>
<rect x="415.95" y="239.95" width="3.7" height="3.7"/>
<rect x="471.55" y="176.15" width="3.7" height="3.7"/>
<rect x="469.05" y="191.45" width="3.7" height="3.7"/>
<rect x="488.15" y="204.75" width="3.7" height="3.7"/>
<rect x="467.05" y="212.45" width="3.7" height="3.7"/>
<rect x="484.85" y="210.05" width="3.7" height="3.7"/>
<rect x="485.05" y="215.35" width="3.7" height="3.7"/>
<rect x="473.75" y="215.15" width="3.7" height="3.7"/>
<rect x="476.45" y="218.35" width="3.7" height="3.7"/>
<rect x="466.45" y="221.95" width="3.7" height="3.7"/>
<rect x="466.85" y="224.45" width="3.7" height="3.7"/>
<rect x="485.45" y="222.45" width="3.7" height="3.7"/>
<rect x="491.55" y="222.75" width="3.7" height="3.7"/>
<rect x="474.45" y="239.75" width="3.7" height="3.7"/>
<rect x="473.45" y="244.05" width="3.7" height="3.7"/>
<rect x="466.65" y="243.35" width="3.7" height="3.7"/>
<rect x="467.35" y="248.75" width="3.7" height="3.7"/>
<rect x="469.05" y="251.35" width="3.7" height="3.7"/>
<rect x="469.55" y="254.65" width="3.7" height="3.7"/>
<rect x="478.45" y="251.15" width="3.7" height="3.7"/>
<rect x="484.45" y="247.65" width="3.7" height="3.7"/>
<rect x="490.65" y="244.75" width="3.7" height="3.7"/>
<rect x="466.65" y="266.20" width="3.7" height="3.7"/>
<rect x="469.65" y="266.20" width="3.7" height="3.7"/>
<rect x="471.75" y="266.20" width="3.7" height="3.7"/>
<rect x="479.65" y="266.20" width="3.7" height="3.7"/>
<rect x="490.75" y="266.20" width="3.7" height="3.7"/>
<rect x="215.25" y="391.85" width="3.7" height="3.7"/>
<rect x="215.95" y="400.65" width="3.7" height="3.7"/>
<rect x="224.05" y="404.65" width="3.7" height="3.7"/>
<rect x="216.65" y="408.05" width="3.7" height="3.7"/>
<rect x="216.65" y="412.05" width="3.7" height="3.7"/>
<rect x="223.35" y="412.05" width="3.7" height="3.7"/>
<rect x="226.15" y="405.75" width="3.7" height="3.7"/>
<rect x="258.95" y="336.45" width="3.7" height="3.7"/>
<rect x="250.65" y="356.15" width="3.7" height="3.7"/>
<rect x="254.95" y="367.15" width="3.7" height="3.7"/>
<rect x="250.65" y="373.75" width="3.7" height="3.7"/>
<rect x="248.95" y="378.65" width="3.7" height="3.7"/>
<rect x="256.15" y="385.85" width="3.7" height="3.7"/>
<rect x="251.55" y="389.55" width="3.7" height="3.7"/>
<rect x="256.35" y="396.65" width="3.7" height="3.7"/>
<rect x="256.95" y="402.65" width="3.7" height="3.7"/>
<rect x="248.95" y="410.05" width="3.7" height="3.7"/>
<rect x="250.95" y="412.05" width="3.7" height="3.7"/>
<rect x="256.35" y="407.35" width="3.7" height="3.7"/>
<rect x="255.65" y="412.75" width="3.7" height="3.7"/>
<rect x="248.95" y="414.75" width="3.7" height="3.7"/>
<rect x="291.75" y="334.95" width="3.7" height="3.7"/>
<rect x="287.85" y="387.05" width="3.7" height="3.7"/>
<rect x="282.95" y="401.55" width="3.7" height="3.7"/>
<rect x="281.75" y="413.55" width="3.7" height="3.7"/>
<rect x="283.85" y="418.40" width="3.7" height="3.7"/>
<rect x="291.55" y="418.40" width="3.7" height="3.7"/>
<rect x="324.15" y="328.35" width="3.7" height="3.7"/>
<rect x="324.95" y="342.55" width="3.7" height="3.7"/>
<rect x="315.75" y="372.95" width="3.7" height="3.7"/>
<rect x="314.45" y="409.25" width="3.7" height="3.7"/>
<rect x="315.65" y="418.40" width="3.7" height="3.7"/>
<rect x="318.15" y="418.40" width="3.7" height="3.7"/>
<rect x="394.45" y="376.05" width="3.7" height="3.7"/>
<rect x="398.75" y="376.05" width="3.7" height="3.7"/>
<rect x="391.45" y="388.15" width="3.7" height="3.7"/>
<rect x="392.65" y="391.25" width="3.7" height="3.7"/>
<rect x="399.35" y="395.45" width="3.7" height="3.7"/>
<rect x="398.15" y="398.45" width="3.7" height="3.7"/>
<rect x="399.95" y="400.95" width="3.7" height="3.7"/>
<rect x="393.25" y="397.25" width="3.7" height="3.7"/>
<rect x="392.65" y="407.55" width="3.7" height="3.7"/>
<rect x="430.85" y="336.05" width="3.7" height="3.7"/>
<rect x="433.55" y="357.05" width="3.7" height="3.7"/>
<rect x="432.15" y="363.25" width="3.7" height="3.7"/>
<rect x="428.05" y="366.75" width="3.7" height="3.7"/>
<rect x="426.95" y="368.75" width="3.7" height="3.7"/>
<rect x="424.15" y="372.35" width="3.7" height="3.7"/>
<rect x="435.25" y="372.85" width="3.7" height="3.7"/>
<rect x="429.75" y="374.55" width="3.7" height="3.7"/>
<rect x="428.65" y="379.75" width="3.7" height="3.7"/>
<rect x="433.05" y="388.05" width="3.7" height="3.7"/>
<rect x="423.05" y="391.95" width="3.7" height="3.7"/>
<rect x="431.95" y="394.15" width="3.7" height="3.7"/>
<rect x="433.05" y="396.35" width="3.7" height="3.7"/>
<rect x="431.35" y="395.75" width="3.7" height="3.7"/>
<rect x="424.75" y="402.95" width="3.7" height="3.7"/>
<rect x="426.95" y="407.35" width="3.7" height="3.7"/>
<rect x="465.55" y="343.65" width="3.7" height="3.7"/>
<rect x="465.55" y="371.25" width="3.7" height="3.7"/>
<rect x="456.75" y="380.95" width="3.7" height="3.7"/>
<rect x="463.85" y="409.25" width="3.7" height="3.7"/>
<rect x="459.35" y="418.40" width="3.7" height="3.7"/>
<rect x="462.75" y="418.40" width="3.7" height="3.7"/>
<rect x="491.85" y="328.05" width="3.7" height="3.7"/>
<rect x="495.15" y="363.55" width="3.7" height="3.7"/>
<rect x="490.35" y="368.45" width="3.7" height="3.7"/>
<rect x="494.75" y="399.95" width="3.7" height="3.7"/>
<rect x="489.15" y="418.40" width="3.7" height="3.7"/>
<rect x="492.95" y="418.40" width="3.7" height="3.7"/>
<rect x="222.41" y="107.00" width="3.7" height="3.7"/>
<rect x="220.05" y="110.98" width="3.7" height="3.7"/>
<rect x="224.05" y="109.70" width="3.7" height="3.7"/>
<rect x="225.15" y="102.08" width="3.7" height="3.7"/>
<rect x="224.93" y="101.45" width="3.7" height="3.7"/>
<rect x="223.73" y="102.40" width="3.7" height="3.7"/>
<rect x="228.90" y="108.35" width="3.7" height="3.7"/>
<rect x="223.88" y="103.65" width="3.7" height="3.7"/>
<rect x="231.52" y="110.73" width="3.7" height="3.7"/>
<rect x="224.39" y="110.17" width="3.7" height="3.7"/>
<rect x="218.26" y="114.18" width="3.7" height="3.7"/>
<rect x="222.57" y="113.08" width="3.7" height="3.7"/>
<rect x="223.21" y="104.06" width="3.7" height="3.7"/>
<rect x="228.12" y="106.78" width="3.7" height="3.7"/>
<rect x="225.81" y="104.74" width="3.7" height="3.7"/>
<rect x="224.04" y="110.85" width="3.7" height="3.7"/>
<rect x="220.42" y="109.84" width="3.7" height="3.7"/>
<rect x="224.20" y="102.12" width="3.7" height="3.7"/>
<rect x="224.76" y="111.30" width="3.7" height="3.7"/>
<rect x="226.18" y="106.86" width="3.7" height="3.7"/>
<rect x="218.06" y="114.24" width="3.7" height="3.7"/>
<rect x="219.52" y="114.56" width="3.7" height="3.7"/>
<rect x="220.09" y="114.46" width="3.7" height="3.7"/>
<rect x="221.50" y="114.70" width="3.7" height="3.7"/>
<rect x="222.82" y="114.23" width="3.7" height="3.7"/>
<rect x="224.19" y="114.09" width="3.7" height="3.7"/>
<rect x="224.75" y="114.61" width="3.7" height="3.7"/>
<rect x="225.60" y="114.39" width="3.7" height="3.7"/>
<rect x="226.61" y="114.53" width="3.7" height="3.7"/>
<rect x="228.45" y="114.46" width="3.7" height="3.7"/>
<rect x="229.69" y="114.25" width="3.7" height="3.7"/>
<rect x="230.63" y="114.48" width="3.7" height="3.7"/>
<rect x="231.63" y="114.36" width="3.7" height="3.7"/>
<rect x="233.01" y="114.76" width="3.7" height="3.7"/>
<rect x="233.76" y="114.53" width="3.7" height="3.7"/>
<rect x="233.92" y="91.15" width="3.7" height="3.7"/>
<rect x="234.69" y="99.15" width="3.7" height="3.7"/>
<rect x="234.63" y="106.15" width="3.7" height="3.7"/>
<rect x="276.16" y="106.95" width="3.7" height="3.7"/>
<rect x="268.83" y="113.79" width="3.7" height="3.7"/>
<rect x="262.73" y="111.02" width="3.7" height="3.7"/>
<rect x="265.17" y="112.79" width="3.7" height="3.7"/>
<rect x="263.34" y="114.30" width="3.7" height="3.7"/>
<rect x="264.52" y="109.94" width="3.7" height="3.7"/>
<rect x="268.92" y="113.94" width="3.7" height="3.7"/>
<rect x="263.70" y="108.67" width="3.7" height="3.7"/>
<rect x="271.58" y="112.88" width="3.7" height="3.7"/>
<rect x="276.11" y="108.51" width="3.7" height="3.7"/>
<rect x="267.03" y="108.76" width="3.7" height="3.7"/>
<rect x="268.38" y="113.10" width="3.7" height="3.7"/>
<rect x="278.44" y="108.50" width="3.7" height="3.7"/>
<rect x="265.31" y="114.23" width="3.7" height="3.7"/>
<rect x="266.27" y="113.99" width="3.7" height="3.7"/>
<rect x="272.25" y="112.62" width="3.7" height="3.7"/>
<rect x="262.42" y="113.88" width="3.7" height="3.7"/>
<rect x="268.55" y="113.07" width="3.7" height="3.7"/>
<rect x="278.36" y="111.98" width="3.7" height="3.7"/>
<rect x="271.01" y="110.80" width="3.7" height="3.7"/>
<rect x="273.71" y="111.52" width="3.7" height="3.7"/>
<rect x="277.46" y="114.38" width="3.7" height="3.7"/>
<rect x="277.04" y="109.81" width="3.7" height="3.7"/>
<rect x="268.94" y="109.59" width="3.7" height="3.7"/>
<rect x="264.09" y="113.20" width="3.7" height="3.7"/>
<rect x="263.40" y="111.36" width="3.7" height="3.7"/>
<rect x="262.32" y="114.17" width="3.7" height="3.7"/>
<rect x="263.21" y="114.27" width="3.7" height="3.7"/>
<rect x="263.90" y="114.00" width="3.7" height="3.7"/>
<rect x="264.80" y="114.08" width="3.7" height="3.7"/>
<rect x="265.81" y="114.02" width="3.7" height="3.7"/>
<rect x="267.12" y="114.49" width="3.7" height="3.7"/>
<rect x="267.20" y="114.20" width="3.7" height="3.7"/>
<rect x="268.20" y="114.29" width="3.7" height="3.7"/>
<rect x="268.77" y="114.68" width="3.7" height="3.7"/>
<rect x="270.44" y="114.37" width="3.7" height="3.7"/>
<rect x="270.73" y="114.07" width="3.7" height="3.7"/>
<rect x="271.15" y="114.27" width="3.7" height="3.7"/>
<rect x="272.11" y="114.66" width="3.7" height="3.7"/>
<rect x="272.81" y="114.02" width="3.7" height="3.7"/>
<rect x="274.40" y="114.42" width="3.7" height="3.7"/>
<rect x="274.40" y="114.43" width="3.7" height="3.7"/>
<rect x="275.08" y="114.42" width="3.7" height="3.7"/>
<rect x="276.83" y="114.69" width="3.7" height="3.7"/>
<rect x="277.35" y="114.21" width="3.7" height="3.7"/>
<rect x="277.82" y="114.13" width="3.7" height="3.7"/>
<rect x="279.02" y="114.43" width="3.7" height="3.7"/>
<rect x="307.48" y="114.26" width="3.7" height="3.7"/>
<rect x="307.63" y="114.65" width="3.7" height="3.7"/>
<rect x="309.10" y="114.68" width="3.7" height="3.7"/>
<rect x="309.62" y="114.65" width="3.7" height="3.7"/>
<rect x="310.26" y="114.18" width="3.7" height="3.7"/>
<rect x="310.74" y="114.28" width="3.7" height="3.7"/>
<rect x="310.96" y="114.02" width="3.7" height="3.7"/>
<rect x="311.92" y="114.21" width="3.7" height="3.7"/>
<rect x="313.03" y="114.77" width="3.7" height="3.7"/>
<rect x="313.49" y="114.75" width="3.7" height="3.7"/>
<rect x="314.74" y="114.76" width="3.7" height="3.7"/>
<rect x="314.82" y="114.18" width="3.7" height="3.7"/>
<rect x="315.39" y="114.16" width="3.7" height="3.7"/>
<rect x="316.07" y="114.50" width="3.7" height="3.7"/>
<rect x="317.47" y="114.67" width="3.7" height="3.7"/>
<rect x="317.75" y="114.52" width="3.7" height="3.7"/>
<rect x="318.78" y="114.07" width="3.7" height="3.7"/>
<rect x="319.34" y="114.73" width="3.7" height="3.7"/>
<rect x="320.17" y="114.60" width="3.7" height="3.7"/>
<rect x="320.57" y="114.14" width="3.7" height="3.7"/>
<rect x="321.59" y="114.27" width="3.7" height="3.7"/>
<rect x="394.05" y="114.78" width="3.7" height="3.7"/>
<rect x="394.43" y="114.32" width="3.7" height="3.7"/>
<rect x="395.77" y="114.58" width="3.7" height="3.7"/>
<rect x="395.79" y="114.10" width="3.7" height="3.7"/>
<rect x="396.56" y="114.72" width="3.7" height="3.7"/>
<rect x="398.00" y="114.12" width="3.7" height="3.7"/>
<rect x="398.81" y="114.78" width="3.7" height="3.7"/>
<rect x="399.44" y="114.28" width="3.7" height="3.7"/>
<rect x="400.12" y="114.10" width="3.7" height="3.7"/>
<rect x="400.37" y="114.78" width="3.7" height="3.7"/>
<rect x="401.80" y="114.42" width="3.7" height="3.7"/>
<rect x="402.87" y="114.35" width="3.7" height="3.7"/>
<rect x="403.60" y="114.66" width="3.7" height="3.7"/>
<rect x="403.73" y="114.20" width="3.7" height="3.7"/>
<rect x="404.60" y="114.19" width="3.7" height="3.7"/>
<rect x="405.69" y="114.21" width="3.7" height="3.7"/>
<rect x="406.31" y="114.10" width="3.7" height="3.7"/>
<rect x="407.59" y="114.28" width="3.7" height="3.7"/>
<rect x="407.93" y="114.47" width="3.7" height="3.7"/>
<rect x="409.17" y="114.34" width="3.7" height="3.7"/>
<rect x="409.97" y="114.40" width="3.7" height="3.7"/>
<rect x="438.27" y="114.42" width="3.7" height="3.7"/>
<rect x="438.55" y="114.35" width="3.7" height="3.7"/>
<rect x="439.50" y="114.00" width="3.7" height="3.7"/>
<rect x="440.90" y="114.14" width="3.7" height="3.7"/>
<rect x="441.36" y="114.58" width="3.7" height="3.7"/>
<rect x="442.23" y="114.26" width="3.7" height="3.7"/>
<rect x="442.98" y="114.44" width="3.7" height="3.7"/>
<rect x="444.03" y="114.08" width="3.7" height="3.7"/>
<rect x="444.59" y="114.20" width="3.7" height="3.7"/>
<rect x="445.09" y="114.62" width="3.7" height="3.7"/>
<rect x="446.11" y="114.45" width="3.7" height="3.7"/>
<rect x="447.15" y="114.73" width="3.7" height="3.7"/>
<rect x="447.61" y="114.49" width="3.7" height="3.7"/>
<rect x="448.46" y="114.41" width="3.7" height="3.7"/>
<rect x="449.44" y="114.36" width="3.7" height="3.7"/>
<rect x="450.06" y="114.38" width="3.7" height="3.7"/>
<rect x="451.26" y="114.56" width="3.7" height="3.7"/>
<rect x="451.98" y="114.75" width="3.7" height="3.7"/>
<rect x="452.15" y="114.45" width="3.7" height="3.7"/>
<rect x="453.61" y="114.67" width="3.7" height="3.7"/>
<rect x="453.59" y="114.10" width="3.7" height="3.7"/>
<rect x="482.25" y="114.06" width="3.7" height="3.7"/>
<rect x="482.78" y="114.06" width="3.7" height="3.7"/>
<rect x="483.93" y="114.63" width="3.7" height="3.7"/>
<rect x="484.88" y="114.12" width="3.7" height="3.7"/>
<rect x="485.42" y="114.53" width="3.7" height="3.7"/>
<rect x="485.57" y="114.71" width="3.7" height="3.7"/>
<rect x="487.12" y="114.18" width="3.7" height="3.7"/>
<rect x="487.83" y="114.32" width="3.7" height="3.7"/>
<rect x="488.09" y="114.79" width="3.7" height="3.7"/>
<rect x="489.16" y="114.13" width="3.7" height="3.7"/>
<rect x="489.48" y="114.41" width="3.7" height="3.7"/>
<rect x="490.11" y="114.16" width="3.7" height="3.7"/>
<rect x="490.82" y="114.58" width="3.7" height="3.7"/>
<rect x="491.24" y="114.44" width="3.7" height="3.7"/>
<rect x="492.39" y="114.01" width="3.7" height="3.7"/>
<rect x="493.00" y="114.50" width="3.7" height="3.7"/>
<rect x="493.91" y="114.05" width="3.7" height="3.7"/>
<rect x="495.10" y="114.63" width="3.7" height="3.7"/>
<rect x="495.81" y="114.08" width="3.7" height="3.7"/>
<rect x="495.83" y="114.03" width="3.7" height="3.7"/>
<rect x="497.07" y="114.22" width="3.7" height="3.7"/>
<rect x="235.37" y="266.14" width="3.7" height="3.7"/>
<rect x="244.70" y="263.00" width="3.7" height="3.7"/>
<rect x="228.96" y="265.94" width="3.7" height="3.7"/>
<rect x="238.86" y="262.95" width="3.7" height="3.7"/>
<rect x="227.55" y="264.31" width="3.7" height="3.7"/>
<rect x="241.62" y="266.19" width="3.7" height="3.7"/>
<rect x="227.15" y="265.50" width="3.7" height="3.7"/>
<rect x="240.36" y="262.81" width="3.7" height="3.7"/>
<rect x="227.42" y="263.73" width="3.7" height="3.7"/>
<rect x="227.02" y="263.38" width="3.7" height="3.7"/>
<rect x="236.11" y="263.33" width="3.7" height="3.7"/>
<rect x="238.45" y="265.76" width="3.7" height="3.7"/>
<rect x="231.74" y="262.89" width="3.7" height="3.7"/>
<rect x="237.83" y="266.14" width="3.7" height="3.7"/>
<rect x="228.02" y="265.98" width="3.7" height="3.7"/>
<rect x="226.63" y="266.10" width="3.7" height="3.7"/>
<rect x="232.78" y="266.04" width="3.7" height="3.7"/>
<rect x="243.30" y="265.84" width="3.7" height="3.7"/>
<rect x="225.89" y="266.20" width="3.7" height="3.7"/>
<rect x="227.09" y="266.08" width="3.7" height="3.7"/>
<rect x="228.23" y="266.00" width="3.7" height="3.7"/>
<rect x="229.53" y="266.39" width="3.7" height="3.7"/>
<rect x="231.38" y="265.95" width="3.7" height="3.7"/>
<rect x="232.61" y="266.55" width="3.7" height="3.7"/>
<rect x="233.54" y="266.46" width="3.7" height="3.7"/>
<rect x="235.17" y="266.20" width="3.7" height="3.7"/>
<rect x="236.88" y="266.11" width="3.7" height="3.7"/>
<rect x="237.86" y="266.35" width="3.7" height="3.7"/>
<rect x="239.64" y="266.07" width="3.7" height="3.7"/>
<rect x="240.80" y="266.37" width="3.7" height="3.7"/>
<rect x="241.91" y="266.12" width="3.7" height="3.7"/>
<rect x="242.92" y="265.84" width="3.7" height="3.7"/>
<rect x="244.01" y="265.86" width="3.7" height="3.7"/>
<rect x="245.93" y="266.00" width="3.7" height="3.7"/>
<rect x="246.65" y="265.87" width="3.7" height="3.7"/>
<rect x="248.64" y="266.50" width="3.7" height="3.7"/>
<rect x="298.54" y="264.09" width="3.7" height="3.7"/>
<rect x="298.81" y="265.74" width="3.7" height="3.7"/>
<rect x="295.55" y="265.00" width="3.7" height="3.7"/>
<rect x="298.09" y="265.05" width="3.7" height="3.7"/>
<rect x="315.19" y="262.57" width="3.7" height="3.7"/>
<rect x="297.64" y="264.64" width="3.7" height="3.7"/>
<rect x="299.21" y="262.55" width="3.7" height="3.7"/>
<rect x="291.78" y="265.38" width="3.7" height="3.7"/>
<rect x="303.19" y="265.29" width="3.7" height="3.7"/>
<rect x="296.59" y="264.83" width="3.7" height="3.7"/>
<rect x="291.87" y="264.82" width="3.7" height="3.7"/>
<rect x="293.91" y="265.68" width="3.7" height="3.7"/>
<rect x="292.75" y="265.23" width="3.7" height="3.7"/>
<rect x="299.08" y="266.19" width="3.7" height="3.7"/>
<rect x="292.49" y="266.27" width="3.7" height="3.7"/>
<rect x="294.79" y="266.40" width="3.7" height="3.7"/>
<rect x="296.93" y="266.37" width="3.7" height="3.7"/>
<rect x="299.16" y="266.11" width="3.7" height="3.7"/>
<rect x="300.61" y="266.59" width="3.7" height="3.7"/>
<rect x="302.45" y="266.38" width="3.7" height="3.7"/>
<rect x="304.95" y="265.84" width="3.7" height="3.7"/>
<rect x="307.15" y="266.51" width="3.7" height="3.7"/>
<rect x="308.95" y="266.39" width="3.7" height="3.7"/>
<rect x="311.14" y="265.91" width="3.7" height="3.7"/>
<rect x="312.86" y="266.20" width="3.7" height="3.7"/>
<rect x="315.18" y="266.44" width="3.7" height="3.7"/>
<rect x="311.83" y="265.27" width="3.7" height="3.7"/>
<rect x="312.41" y="265.35" width="3.7" height="3.7"/>
<rect x="312.72" y="264.98" width="3.7" height="3.7"/>
<rect x="312.57" y="264.91" width="3.7" height="3.7"/>
<rect x="313.41" y="264.88" width="3.7" height="3.7"/>
<rect x="314.40" y="265.25" width="3.7" height="3.7"/>
<rect x="314.70" y="265.30" width="3.7" height="3.7"/>
<rect x="315.26" y="265.19" width="3.7" height="3.7"/>
<rect x="315.10" y="265.44" width="3.7" height="3.7"/>
<rect x="400.64" y="266.20" width="3.7" height="3.7"/>
<rect x="401.50" y="266.33" width="3.7" height="3.7"/>
<rect x="402.10" y="266.39" width="3.7" height="3.7"/>
<rect x="403.36" y="265.86" width="3.7" height="3.7"/>
<rect x="404.45" y="266.38" width="3.7" height="3.7"/>
<rect x="405.47" y="266.39" width="3.7" height="3.7"/>
<rect x="407.31" y="266.20" width="3.7" height="3.7"/>
<rect x="407.80" y="266.18" width="3.7" height="3.7"/>
<rect x="409.17" y="266.41" width="3.7" height="3.7"/>
<rect x="410.18" y="266.31" width="3.7" height="3.7"/>
<rect x="410.71" y="265.92" width="3.7" height="3.7"/>
<rect x="411.97" y="266.39" width="3.7" height="3.7"/>
<rect x="413.09" y="266.25" width="3.7" height="3.7"/>
<rect x="413.87" y="265.85" width="3.7" height="3.7"/>
<rect x="415.21" y="266.34" width="3.7" height="3.7"/>
<rect x="416.70" y="266.34" width="3.7" height="3.7"/>
<rect x="417.38" y="266.21" width="3.7" height="3.7"/>
<rect x="418.63" y="266.17" width="3.7" height="3.7"/>
<rect x="419.36" y="266.51" width="3.7" height="3.7"/>
<rect x="420.51" y="266.58" width="3.7" height="3.7"/>
<rect x="422.32" y="265.81" width="3.7" height="3.7"/>
<rect x="422.92" y="266.46" width="3.7" height="3.7"/>
<rect x="424.51" y="266.16" width="3.7" height="3.7"/>
<rect x="424.88" y="265.97" width="3.7" height="3.7"/>
<rect x="218.38" y="414.22" width="3.7" height="3.7"/>
<rect x="217.68" y="416.38" width="3.7" height="3.7"/>
<rect x="225.87" y="416.67" width="3.7" height="3.7"/>
<rect x="224.53" y="418.18" width="3.7" height="3.7"/>
<rect x="225.21" y="416.75" width="3.7" height="3.7"/>
<rect x="218.59" y="415.72" width="3.7" height="3.7"/>
<rect x="221.16" y="414.53" width="3.7" height="3.7"/>
<rect x="216.29" y="418.38" width="3.7" height="3.7"/>
<rect x="216.80" y="418.36" width="3.7" height="3.7"/>
<rect x="217.74" y="418.11" width="3.7" height="3.7"/>
<rect x="218.90" y="418.25" width="3.7" height="3.7"/>
<rect x="220.52" y="418.00" width="3.7" height="3.7"/>
<rect x="221.55" y="418.67" width="3.7" height="3.7"/>
<rect x="222.04" y="418.74" width="3.7" height="3.7"/>
<rect x="223.76" y="418.72" width="3.7" height="3.7"/>
<rect x="224.46" y="418.30" width="3.7" height="3.7"/>
<rect x="225.68" y="418.80" width="3.7" height="3.7"/>
<rect x="251.02" y="414.53" width="3.7" height="3.7"/>
<rect x="250.27" y="416.01" width="3.7" height="3.7"/>
<rect x="248.75" y="418.31" width="3.7" height="3.7"/>
<rect x="250.36" y="411.88" width="3.7" height="3.7"/>
<rect x="250.04" y="410.66" width="3.7" height="3.7"/>
<rect x="252.35" y="417.23" width="3.7" height="3.7"/>
<rect x="251.14" y="417.69" width="3.7" height="3.7"/>
<rect x="255.63" y="410.41" width="3.7" height="3.7"/>
<rect x="248.65" y="418.50" width="3.7" height="3.7"/>
<rect x="249.73" y="418.75" width="3.7" height="3.7"/>
<rect x="250.34" y="418.58" width="3.7" height="3.7"/>
<rect x="250.82" y="418.59" width="3.7" height="3.7"/>
<rect x="252.20" y="418.60" width="3.7" height="3.7"/>
<rect x="253.37" y="418.23" width="3.7" height="3.7"/>
<rect x="253.75" y="418.74" width="3.7" height="3.7"/>
<rect x="254.81" y="418.38" width="3.7" height="3.7"/>
<rect x="256.00" y="418.24" width="3.7" height="3.7"/>
<rect x="394.87" y="418.78" width="3.7" height="3.7"/>
<rect x="394.97" y="418.52" width="3.7" height="3.7"/>
<rect x="395.58" y="418.45" width="3.7" height="3.7"/>
<rect x="396.24" y="418.13" width="3.7" height="3.7"/>
<rect x="396.58" y="418.17" width="3.7" height="3.7"/>
<rect x="397.89" y="418.40" width="3.7" height="3.7"/>
<rect x="397.78" y="418.73" width="3.7" height="3.7"/>
<rect x="399.12" y="418.36" width="3.7" height="3.7"/>
<rect x="398.83" y="418.15" width="3.7" height="3.7"/>
<rect x="399.36" y="418.27" width="3.7" height="3.7"/>
<rect x="423.65" y="418.19" width="3.7" height="3.7"/>
<rect x="424.65" y="418.46" width="3.7" height="3.7"/>
<rect x="426.10" y="418.60" width="3.7" height="3.7"/>
<rect x="426.45" y="418.33" width="3.7" height="3.7"/>
<rect x="427.39" y="418.30" width="3.7" height="3.7"/>
<rect x="428.03" y="418.05" width="3.7" height="3.7"/>
<rect x="428.79" y="418.77" width="3.7" height="3.7"/>
<rect x="429.46" y="418.40" width="3.7" height="3.7"/>
<rect x="430.79" y="418.69" width="3.7" height="3.7"/>
<rect x="431.20" y="418.22" width="3.7" height="3.7"/>
<rect x="432.06" y="418.32" width="3.7" height="3.7"/>
<rect x="433.08" y="418.76" width="3.7" height="3.7"/>
</g>
</svg>
</body></html>
